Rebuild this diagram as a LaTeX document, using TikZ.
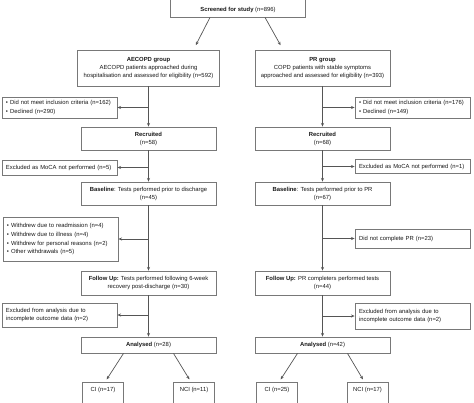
\documentclass[tikz,border=0pt]{standalone}
\usepackage{fontspec}
\setmainfont{Liberation Sans}
\usetikzlibrary{arrows.meta}

\definecolor{boxgray}{RGB}{120,120,120}
\definecolor{linegray}{RGB}{85,85,85}
\definecolor{txtgray}{RGB}{25,25,25}

\tikzset{
  box/.style={draw=boxgray, line width=0.8bp, fill=white, align=center, inner sep=2bp,
    text=txtgray, font=\fontsize{5.9}{8}\selectfont},
  mainbox/.style={box, minimum width=135bp},
  sidebox/.style={box, align=left, inner xsep=4bp, text width=107bp},
  listbox/.style={sidebox, font=\fontsize{5.9}{9}\selectfont},
  endbox/.style={box, anchor=north, minimum width=41bp, text height=7bp, text depth=15bp},
  arr/.style={draw=linegray, line width=0.7bp, -{Stealth[length=3.6bp,width=3bp]}},
}

\begin{document}
\begin{tikzpicture}[x=1bp, y=-1bp]
        \useasboundingbox (0,0) rectangle (474,402);

        % Screening
        \node[mainbox, text height=16bp, text depth=4bp, anchor=base] (screen) at (238,11)
            {\textbf{Screened for study} (n=896)};

        % Groups
        \node[box, minimum width=142bp, minimum height=36bp] (aecopd) at (148.5,68)
            {\textbf{AECOPD group}\\AECOPD patients approached during\\hospitalisation and assessed for eligibility (n=592)};
        \node[mainbox, minimum height=36bp] (pr) at (322.5,68)
            {\textbf{PR group}\\COPD patients with stable symptoms\\approached and assessed for eligibility (n=393)};

        % Left column
        \node[mainbox, minimum height=23bp] (rec1) at (148.5,138.5) {\textbf{Recruited}\\(n=58)};
        \node[mainbox, minimum height=23bp] (base1) at (148.5,193.5)
            {\textbf{Baseline}: Tests performed prior to discharge\\(n=45)};
        \node[mainbox, minimum height=24bp] (fu1) at (148.5,283)
            {\textbf{Follow Up:} Tests performed following 6-week\\recovery post-discharge (n=30)};
        \node[mainbox, minimum height=16bp] (an1) at (148.5,345) {\textbf{Analysed} (n=28)};
        \node[endbox] (ci1) at (103,382) {CI (n=17)};
        \node[endbox] (nci1) at (194,382) {NCI (n=11)};

        % Right column
        \node[mainbox, minimum height=23bp] (rec2) at (322.5,138.5) {\textbf{Recruited}\\(n=68)};
        \node[mainbox, minimum height=23bp] (base2) at (322.5,193.5)
            {\textbf{Baseline}: Tests performed prior to PR\\(n=67)};
        \node[mainbox, minimum height=24bp] (fu2) at (322.5,283)
            {\textbf{Follow Up:} PR completers performed tests\\(n=44)};
        \node[mainbox, minimum height=16bp] (an2) at (322.5,345) {\textbf{Analysed} (n=42)};
        \node[endbox] (ci2) at (277,382) {CI (n=25)};
        \node[endbox] (nci2) at (367.5,382) {NCI (n=17)};

        % Exclusions, left
        \node[listbox, minimum height=21bp] (ex1a) at (59.5,107.5)
            {• Did not meet inclusion criteria (n=162)\\• Declined (n=290)};
        \node[sidebox, minimum height=15bp] (ex1b) at (59.5,167.5) {Excluded as MoCA not performed (n=5)};
        \node[listbox, minimum height=44bp] (wd1) at (60.5,239)
            {• Withdrew due to readmission (n=4)\\• Withdrew due to illness (n=4)\\%
             • Withdrew for personal reasons (n=2)\\• Other withdrawals (n=5)};
        \node[sidebox, minimum height=24bp] (ex1c) at (59.5,315)
            {Excluded from analysis due to\\incomplete outcome data (n=2)};

        % Exclusions, right
        \node[listbox, minimum height=21bp] (ex2a) at (412.5,107.5)
            {• Did not meet inclusion criteria (n=176)\\• Declined (n=149)};
        \node[sidebox, minimum height=14bp] (ex2b) at (412.5,166.5) {Excluded as MoCA not performed (n=1)};
        \node[sidebox, minimum height=19bp] (dnc) at (412.5,238.5) {Did not complete PR (n=23)};
        \node[sidebox, minimum height=26bp] (ex2c) at (412.5,316)
            {Excluded from analysis due to\\incomplete outcome data (n=2)};

        % Split into the two groups
        \draw[arr, shorten >=5bp] ([xshift=-28bp]screen.south) -- ([xshift=45bp]aecopd.north);
        \draw[arr, shorten >=5bp] ([xshift=27bp]screen.south) -- ([xshift=-39.5bp]pr.north);

        % Down the columns
        \foreach \a/\b in {aecopd/rec1, rec1/base1, base1/fu1, fu1/an1,
                           pr/rec2, rec2/base2, base2/fu2, fu2/an2} {
            \draw[arr] (\a) -- (\b);
        }

        % Out to the side boxes
        \foreach \c/\s in {rec1/ex1a, base1/ex1b, fu1/wd1, an1/ex1c,
                           rec2/ex2a, base2/ex2b, fu2/dnc, an2/ex2c} {
            \draw[arr] (\c.north |- \s.east) -- (\s);
        }

        % CI / NCI
        \foreach \an/\ci/\nci in {an1/ci1/nci1, an2/ci2/nci2} {
            \draw[arr, shorten >=3bp] ([xshift=-25bp]\an.south) -- ([xshift=2bp]\ci.north);
            \draw[arr, shorten >=3bp] ([xshift=25bp]\an.south) -- ([xshift=-3bp]\nci.north);
        }
    \end{tikzpicture}
\end{document}
